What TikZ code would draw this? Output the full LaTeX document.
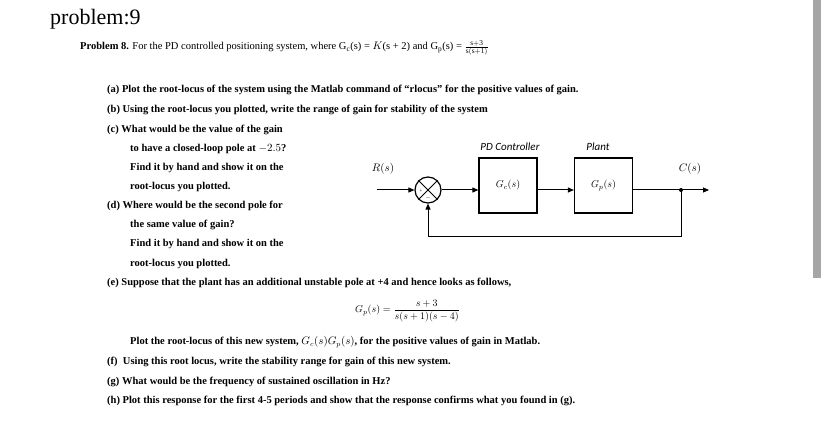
\documentclass[tikz,border=0pt]{standalone}
\usepackage{fontspec}
\setmainfont{Liberation Serif}
\newfontfamily\carlitofam{Carlito}
\usetikzlibrary{arrows.meta}
\begin{document}
\begin{tikzpicture}[x=1pt,y=-1pt,
  ln/.style={anchor=west,inner sep=0pt,font=\fontsize{10.5}{12}\selectfont\bfseries},
  blk/.style={draw,line width=1.2pt,minimum width=58pt,minimum height=55pt,inner sep=0pt},
  lab/.style={inner sep=0pt,font=\carlitofam\itshape\fontsize{11}{12}\selectfont},
  arr/.style={line width=1pt,-{Triangle[length=6pt,width=5pt]}}]
\useasboundingbox (0,0) rectangle (828,422);
\fill[gray!70] (813,0) rectangle (821,278);
\node[anchor=west,inner sep=0pt,font=\fontsize{22}{24}\selectfont] (t) at (50,19) {problem:9};
\node[ln] (p8) at (80,48) {Problem 8. {\mdseries For the PD controlled positioning system, where G$_\mathrm{c}$(s) = $K$(s + 2) and G$_\mathrm{p}$(s) =} $\frac{\mathrm{s+3}}{\mathrm{s(s+1)}}$};
\node[ln] (a) at (107,90) {(a) Plot the root-locus of the system using the Matlab command of ``rlocus'' for the positive values of gain.};
\node[ln] (b) at (107,110) {(b) Using the root-locus you plotted, write the range of gain for stability of the system};
\node[ln] (c1) at (107,130) {(c) What would be the value of the gain};
\node[ln] (c2) at (130,149) {to have a closed-loop pole at $-2.5$?};
\node[ln] (c3) at (130,168) {Find it by hand and show it on the};
\node[ln] (c4) at (130,187) {root-locus you plotted.};
\node[ln] (d1) at (107,206) {(d) Where would be the second pole for};
\node[ln] (d2) at (130,225) {the same value of gain?};
\node[ln] (d3) at (130,244) {Find it by hand and show it on the};
\node[ln] (d4) at (130,264) {root-locus you plotted.};
\node[ln] (e) at (107,283) {(e) Suppose that the plant has an additional unstable pole at +4 and hence looks as follows,};
\node[anchor=west,inner sep=0pt] (gp) at (355,311) {$\displaystyle G_p(s)=\frac{s+3}{s(s+1)(s-4)}$};
\node[ln] (pl) at (130,342) {Plot the root-locus of this new system, $G_c(s)G_p(s)$, for the positive values of gain in Matlab.};
\node[ln] (f) at (107,362) {(f)\ \ Using this root locus, write the stability range for gain of this new system.};
\node[ln] (g) at (107,382) {(g) What would be the frequency of sustained oscillation in Hz?};
\node[ln] (h) at (107,401) {(h) Plot this response for the first 4-5 periods and show that the response confirms what you found in (g).};
% block diagram
\coordinate (in) at (377,190);
\node[draw,circle,line width=1.2pt,minimum size=26pt,inner sep=0pt] (sum) at (428,190) {};
\draw[line width=1pt] (sum.north west)--(sum.south east) (sum.north east)--(sum.south west);
\node[font=\tiny,inner sep=0pt] at (421,191) {+};
\node[font=\tiny,inner sep=0pt] at (428,198) {$-$};
\node[blk] (gc) at (508,185.5) {$G_c(s)$};
\node[blk] (gpb) at (603.5,185.5) {$G_p(s)$};
\coordinate (out) at (709,190);
\coordinate (br) at (681,190);
\coordinate (fb) at (681,237);
\coordinate (fb2) at (428,237);
\fill (br) circle (2pt);
\draw[arr] (in)--(sum);
\draw[arr] (sum)--(gc.west|-sum);
\draw[arr] (gc.east|-sum)--(gpb.west|-sum);
\draw[arr] (gpb.east|-sum)--(out);
\draw[arr] (br)--(fb)--(fb2)--(sum);
\node[lab] (r) at (383,169) {$R(s)$};
\node[lab] (cs) at (690,169) {$C(s)$};
\node[lab] (pd) at (510,147) {PD Controller};
\node[lab] (pt) at (598,147) {Plant};
\end{tikzpicture}
\end{document}
